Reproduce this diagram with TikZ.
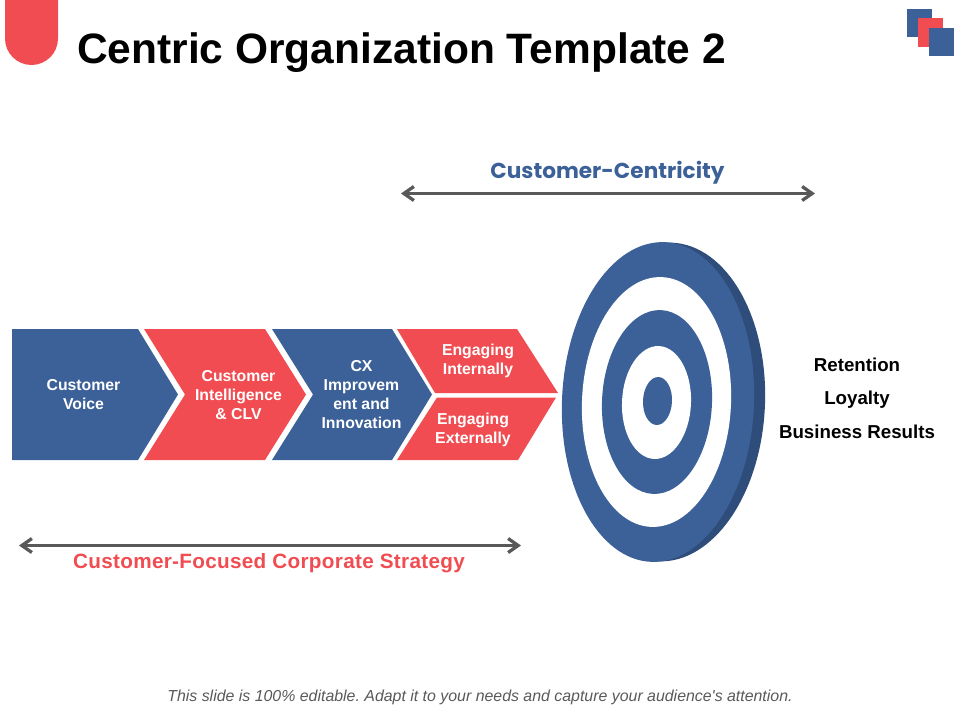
\documentclass[tikz,border=0pt]{standalone}
\usepackage{fontspec}
\setmainfont{Liberation Sans}
\newfontfamily\gothic{Poppins}
\newfontfamily\spacedbold[LetterSpace=1.5]{Liberation Sans Bold}
\usetikzlibrary{arrows.meta}
\definecolor{tblue}{HTML}{3C6199}
\definecolor{tdark}{HTML}{2F4D7A}
\definecolor{tred}{HTML}{F04C51}
\definecolor{tgray}{HTML}{595959}
\tikzset{
  blueshape/.style={fill=tblue,draw=none},
  redshape/.style={fill=tred,draw=none},
  chevtext/.style={text=white,font=\fontsize{15.8}{19}\selectfont\bfseries,align=center,inner sep=0pt},
  sidetext/.style={text=black,font=\fontsize{18.7}{22}\selectfont\bfseries,inner sep=0pt,anchor=base},
  spanarrow/.style={draw=tgray,line width=3.3pt,{Straight Barb[length=10pt,width=14pt,line width=3.3pt]}-{Straight Barb[length=10pt,width=14pt,line width=3.3pt]}}
}
\begin{document}
\begin{tikzpicture}[x=1pt,y=-1pt]
\frenchspacing
\path[use as bounding box] (0,0) rectangle (960,720);
% corner tab
\fill[tred] (5,0) -- (5,38.5) arc[start angle=180,end angle=0,x radius=26.5,y radius=26.5] -- (58,0) -- cycle;
\node[anchor=base west,inner sep=0pt,font=\fontsize{42.5}{50}\selectfont\bfseries] (title) at (77,63) {Centric Organization Template 2};
% squares
\fill[tblue] (907,9) rectangle (932,37);
\fill[tred] (918,18) rectangle (943,47);
\fill[tblue] (929,28) rectangle (954,56);
% top label and arrow
\node[inner sep=0pt,text=tblue,font=\fontsize{21.6}{27}\gothic\bfseries] (cc) at (607.5,172.5) {Customer-Centricity};
\coordinate (ccl) at (401,193.5);
\coordinate (ccr) at (815,193.5);
\draw[spanarrow] (ccl) -- (ccr);
% chevrons
\fill[blueshape] (12,329) -- (138,329) -- (178,394.5) -- (138,460) -- (12,460) -- cycle;
\fill[redshape] (144,329) -- (265,329) -- (306,394.5) -- (265,460) -- (144,460) -- (185,394.5) -- cycle;
\fill[blueshape] (272,329) -- (392,329) -- (432,394.5) -- (392,460) -- (272,460) -- (313,394.5) -- cycle;
\fill[redshape] (397,329) -- (517,329) -- (558,393) -- (435,393) -- cycle;
\fill[redshape] (437,397.5) -- (556,397.5) -- (518,460) -- (397,460) -- cycle;
\node[chevtext] (voice) at (83.5,395) {Customer\\Voice};
\node[chevtext] (intel) at (238.5,395.5) {Customer\\Intelligence\\\& CLV};
\node[chevtext] (cx) at (361.5,395) {CX\\Improvem\\ent and\\Innovation};
\node[chevtext] (int) at (478,360.5) {Engaging\\Internally};
\node[chevtext] (ext) at (473,429.5) {Engaging\\Externally};
% bottom label and arrow
\coordinate (cfl) at (19,545.5);
\coordinate (cfr) at (521,545.5);
\draw[spanarrow] (cfl) -- (cfr);
\node[inner sep=0pt,text=tred,font=\fontsize{20.7}{24}\spacedbold] (cf) at (269,563) {Customer-Focused Corporate Strategy};
% target
\fill[tdark,rotate around={-2.5:(665,402)}] (665,402) ellipse[x radius=100,y radius=159.5];
\fill[tblue,rotate around={-2.5:(658,402)}] (658,402) ellipse[x radius=96,y radius=160];
\fill[white,rotate around={-2.5:(656.5,402)}] (656.5,402) ellipse[x radius=74.5,y radius=125];
\fill[tblue,rotate around={-2.5:(657,402)}] (657,402) ellipse[x radius=55,y radius=92];
\fill[white,rotate around={-2.5:(656.5,402.5)}] (656.5,402.5) ellipse[x radius=34.5,y radius=56.5];
\fill[tblue,rotate around={-2.5:(657.5,401)}] (657.5,401) ellipse[x radius=14.5,y radius=24];
% right labels
\node[sidetext] (ret) at (857,371) {Retention};
\node[sidetext] (loy) at (857,404.5) {Loyalty};
\node[sidetext] (bus) at (857,438) {Business Results};
% footer
\node[inner sep=0pt,text=tgray,anchor=base,font=\fontsize{15.9}{19}\selectfont\itshape] (foot) at (480,701) {This slide is 100\% editable. Adapt it to your needs and capture your audience\textquotesingle s attention.};
\end{tikzpicture}
\end{document}
